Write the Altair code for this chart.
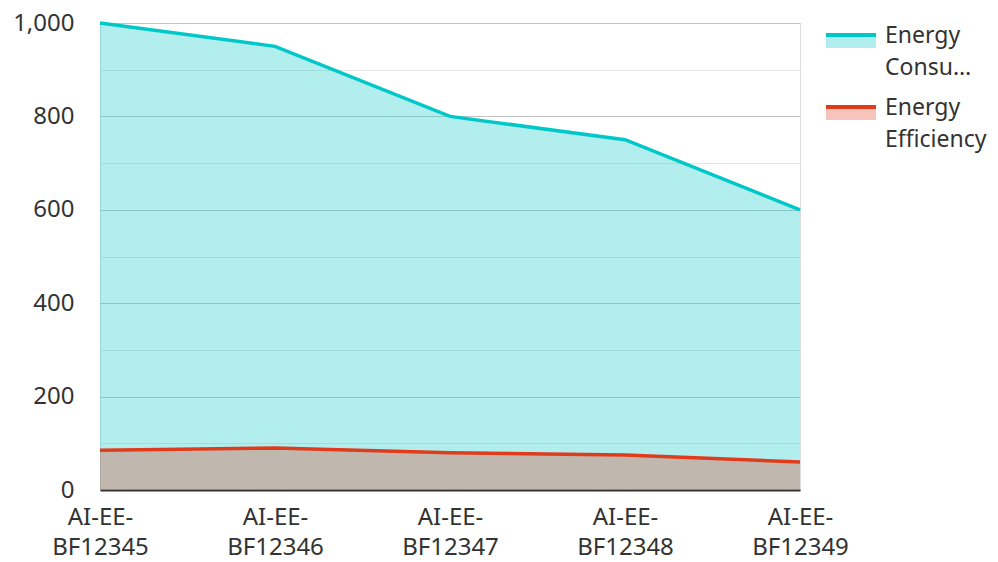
import altair as alt
import pandas as pd

categories = ["AI-EE-BF12345", "AI-EE-BF12346", "AI-EE-BF12347", "AI-EE-BF12348", "AI-EE-BF12349"]
consumption = [1000, 950, 800, 750, 600]
efficiency = [85, 90, 80, 75, 60]
series_names = ["Energy Consumption", "Energy Efficiency"]
legend_labels = ["Energy\nConsu…", "Energy\nEfficiency"]
colors = ["#00c8c8", "#e03c1c"]
grid_ticks = [0, 100, 200, 300, 400, 500, 600, 700, 800, 900, 1000]

df = pd.DataFrame({
    "cat": categories * 2,
    "series": [series_names[0]] * 5 + [series_names[1]] * 5,
    "value": consumption + efficiency,
})

FONT = "Noto Sans"
FS = 24
x = alt.X("cat:O", scale=alt.Scale(type="point", padding=0), sort=categories,
          axis=alt.Axis(title=None, labelAngle=0, ticks=False, domain=True,
                        domainColor="#333333", domainWidth=2, grid=False,
                        labelFont=FONT, labelFontSize=FS, labelColor="#333333",
                        labelPadding=15, labelLineHeight=30,
                        labelExpr="[slice(datum.label,0,6), slice(datum.label,6)]"))
yscale = alt.Scale(domain=[0, 1000], nice=False)
y = alt.Y("value:Q", scale=yscale, stack=None,
          axis=alt.Axis(title=None, values=grid_ticks, ticks=False, domain=False,
                        grid=True,
                        gridColor={"condition": {"test": "datum.value % 200 === 0", "value": "#c4c4c4"},
                                   "value": "#e6e6e6"},
                        gridWidth=1,
                        labelExpr="datum.value % 200 === 0 ? format(datum.value, ',') : ''",
                        labelFont=FONT, labelFontSize=FS, labelColor="#333333",
                        labelPadding=26))
color = alt.Color("series:N", scale=alt.Scale(domain=series_names, range=colors), legend=None)

area = alt.Chart(df).mark_area(opacity=0.3).encode(x=x, y=y, color=color)
line = alt.Chart(df).mark_line(strokeWidth=3.5).encode(x=x, y=y, color=color)

leg = pd.DataFrame({"series": series_names, "label": legend_labels})
leg_cons = leg.iloc[[0]]
leg_eff = leg.iloc[[1]]

def legend_item(d, top):
    fill = alt.Chart(d).mark_rect(opacity=0.3).encode(
        x=alt.value(726), x2=alt.value(776), y=alt.value(top + 2), y2=alt.value(top + 13),
        color=color)
    stroke = alt.Chart(d).mark_rect().encode(
        x=alt.value(726), x2=alt.value(776), y=alt.value(top - 2), y2=alt.value(top + 2),
        color=color)
    txt = alt.Chart(d).mark_text(align="left", baseline="middle", font=FONT, fontSize=23,
                                 color="#333333", lineBreak="\n", lineHeight=32).encode(
        x=alt.value(785), y=alt.value(top + 1), text="label:N")
    return fill + stroke + txt

chart = alt.layer(
    area, line, legend_item(leg_cons, 12), legend_item(leg_eff, 84)
).properties(
    width=700, height=467,
    autosize=alt.AutoSizeParams(type="none"),
    padding={"left": 92, "top": 15, "right": 190, "bottom": 72},
).configure_view(stroke=None).configure(background="white")

chart.save("out.html", embed_options={"renderer": "svg", "actions": False})
